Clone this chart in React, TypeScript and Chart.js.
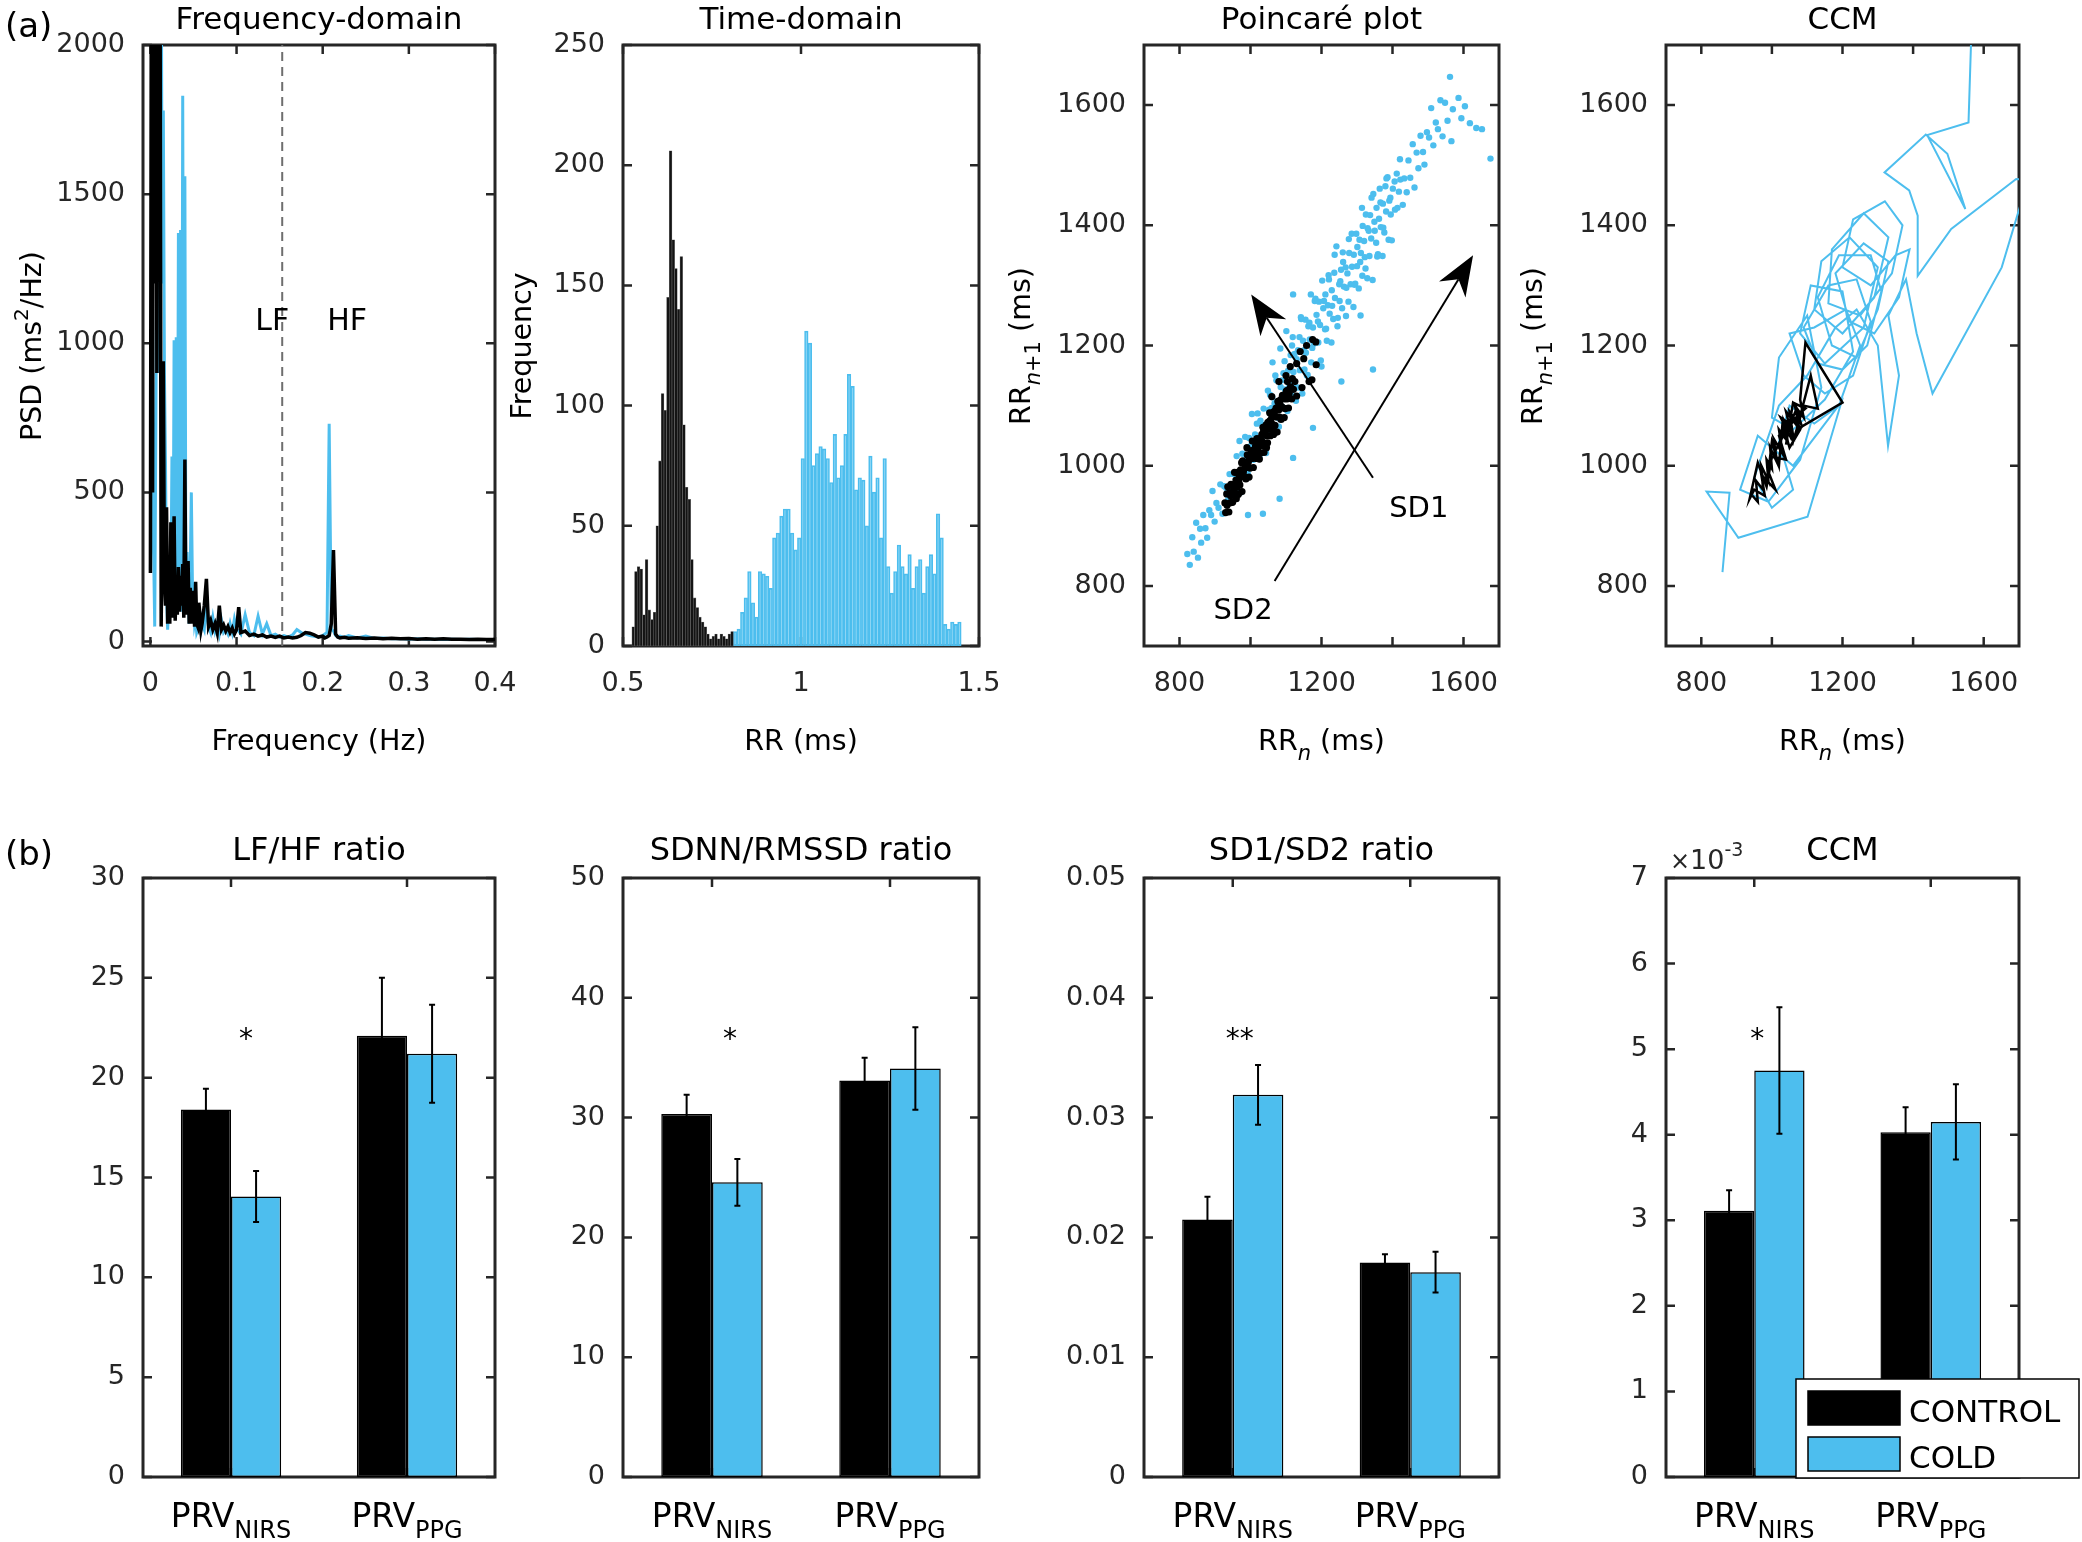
import React, { useEffect, useRef } from 'react';
import { Chart, registerables } from 'chart.js';

Chart.register(...registerables);

const FONT = '"DejaVu Sans", "Liberation Sans", sans-serif';
const INK = '#262626';
const BLUE = '#4DBEEE';
const BLUE_FACE = 'rgba(77, 190, 238, 0.6)';
Chart.defaults.font.family = FONT;
Chart.defaults.color = INK;

// ---------------- (a) Frequency-domain ----------------
const FREQ_HZ = [
  0, 0.00125, 0.0025, 0.00375, 0.005, 0.00625, 0.0075, 0.00875, 0.01, 0.01125,
  0.0125, 0.01375, 0.015, 0.01625, 0.0175, 0.01875, 0.02, 0.02125, 0.0225, 0.02375,
  0.025, 0.02625, 0.0275, 0.02875, 0.03, 0.03125, 0.0325, 0.03375, 0.035, 0.03625,
  0.0375, 0.03875, 0.04, 0.04125, 0.0425, 0.04375, 0.045, 0.04625, 0.0475, 0.04875,
  0.05, 0.05125, 0.0525, 0.05375, 0.055, 0.05625, 0.0575, 0.05875, 0.06,
  0.0625, 0.065, 0.0675, 0.07, 0.0725, 0.075, 0.0775, 0.08, 0.0825, 0.085,
  0.0875, 0.09, 0.0925, 0.095, 0.0975, 0.1,
  0.1025, 0.105, 0.11, 0.115, 0.12, 0.125, 0.13, 0.135, 0.14, 0.145,
  0.15, 0.155, 0.16, 0.165, 0.17, 0.175, 0.18, 0.185, 0.19, 0.195,
  0.2, 0.2025, 0.205, 0.2075, 0.21, 0.2125, 0.215, 0.2175, 0.22, 0.225,
  0.23, 0.24, 0.25, 0.26, 0.27, 0.28, 0.29, 0.3, 0.31, 0.32,
  0.33, 0.34, 0.35, 0.36, 0.37, 0.38, 0.39, 0.4,
];
const PSD_CONTROL = [
  230, 2600, 500, 2800, 1200, 2900, 900, 2500, 1400, 2200,
  50, 500, 940, 200, 120, 450, 60, 180, 60, 400,
  80, 200, 420, 70, 180, 90, 250, 100, 220, 120,
  260, 80, 610, 90, 200, 270, 60, 180, 60, 120,
  170, 50, 200, 60, 50, 130, 90, 40, 60,
  120, 210, 50, 70, 40, 60, 30, 120, 40, 55,
  35, 50, 30, 45, 25, 40,
  115, 30, 35, 20, 25, 18, 22, 15, 18, 14,
  18, 12, 15, 12, 14, 20, 30, 28, 22, 15,
  18, 12, 15, 20, 60, 307, 25, 15, 12, 14,
  11, 13, 10, 12, 9, 11, 9, 10, 8, 9,
  8, 9, 8, 8, 7, 8, 7, 7,
];
const PSD_COLD = [
  240, 600, 870, 300, 50, 700, 1400, 900, 2600, 2200,
  2400, 1200, 1780, 900, 600, 150, 40, 120, 280, 150,
  620, 100, 1010, 80, 1020, 150, 1370, 200, 1380, 100,
  1830, 300, 1560, 100, 300, 150, 60, 250, 500, 200,
  150, 60, 80, 30, 40, 70, 100, 40, 60,
  40, 120, 50, 30, 80, 35, 60, 25, 70, 30,
  40, 25, 60, 30, 75, 40,
  35, 25, 90, 30, 20, 85, 25, 60, 20, 25,
  15, 20, 15, 22, 40, 30, 25, 20, 18, 15,
  20, 25, 30, 730, 40, 35, 20, 15, 18, 14,
  20, 12, 18, 10, 12, 9, 10, 8, 9, 8,
  8, 7, 8, 7, 8, 7, 7, 7,
];
const LF_HF_SPLIT_HZ = 0.153;
const PSD_X_RANGE = [-0.0086, 0.4];
const PSD_Y_RANGE = [-15, 2000];
const PSD_X_TICKS = [0, 0.1, 0.2, 0.3, 0.4];
const PSD_Y_TICKS = [0, 500, 1000, 1500, 2000];

// ---------------- Time-domain histogram ----------------
const HIST_CONTROL_START = 0.525;
const HIST_CONTROL_WIDTH = 0.0075;
const HIST_CONTROL_COUNTS = [
  8, 31, 33, 32, 13, 36, 15, 11, 14, 50, 77, 105, 98, 145, 206, 169, 157, 140, 162,
  92, 66, 61, 36, 20, 16, 12, 10, 8, 5, 3, 4, 5, 3, 5, 4, 3, 5, 6,
];
const HIST_COLD_START = 0.81;
const HIST_COLD_WIDTH = 0.01;
const HIST_COLD_COUNTS = [
  6, 7, 14, 20, 31, 18, 12, 31, 30, 29, 24, 45, 47, 54, 57, 57, 47, 40, 45, 78,
  131, 126, 75, 80, 83, 82, 78, 68, 88, 70, 75, 88, 113, 108, 65, 70, 69, 50, 79, 64,
  70, 45, 78, 33, 22, 31, 42, 33, 30, 38, 24, 33, 36, 22, 33, 38, 30, 55, 45, 9,
  7, 10, 9, 10,
];
const HIST_X_TICKS = [0.5, 1, 1.5];
const HIST_Y_TICKS = [0, 50, 100, 150, 200, 250];

// ---------------- Poincaré plot: [RR_n, RR_n+1] ----------------
const POINCARE_CONTROL = [
  [928, 938], [930, 922], [933, 953], [934, 934], [936, 965], [939, 923], [941, 955], [942, 938], [945, 969], [947, 951],
  [949, 939], [951, 968], [954, 962], [955, 989], [957, 951], [960, 972], [962, 964], [963, 989], [966, 953], [968, 984],
  [970, 968], [972, 993], [975, 982], [976, 957], [978, 1008], [981, 994], [983, 982], [984, 1003], [987, 978], [989, 999],
  [991, 1018], [993, 997], [996, 981], [997, 1012], [999, 996], [1002, 1025], [1004, 1012], [1005, 1041], [1008, 997], [1010, 1021],
  [1012, 1013], [1014, 1032], [1017, 1012], [1018, 1045], [1020, 1026], [1023, 1038], [1025, 1011], [1027, 1037], [1029, 1021], [1032, 1052],
  [1033, 1033], [1035, 1064], [1038, 1022], [1040, 1054], [1041, 1037], [1044, 1068], [1046, 1050], [1048, 1038], [1050, 1067], [1053, 1061],
  [1054, 1088], [1056, 1050], [1059, 1071], [1061, 1063], [1062, 1088], [1065, 1052], [1067, 1083], [1069, 1067], [1071, 1092], [1074, 1081],
  [1075, 1056], [1077, 1107], [1080, 1093], [1082, 1081], [1083, 1102], [1086, 1077], [1088, 1098], [1090, 1117], [1092, 1096], [1095, 1080],
  [1096, 1111], [1098, 1095], [1101, 1124], [1103, 1111], [1104, 1140], [1107, 1096], [1109, 1120], [1111, 1112], [1113, 1131], [1116, 1111],
  [1118, 1145], [1121, 1127], [1125, 1140], [1130, 1116],
  [944, 950], [952, 958], [959, 976], [967, 975], [973, 988], [980, 990], [986, 1002], [994, 1006], [1000, 1015], [1007, 1022],
  [1013, 1028], [1019, 1036], [1026, 1045], [1031, 1042], [1037, 1058], [1043, 1060], [1049, 1072], [1055, 1075], [1060, 1080], [1066, 1090],
  [1072, 1096], [1078, 1098], [1085, 1110], [1091, 1115], [1097, 1118], [1103, 1125], [1110, 1128], [950, 940], [965, 952], [1015, 1020],
  [1112, 1165], [1140, 1190], [1150, 1178], [1158, 1200], [1175, 1210], [1184, 1206], [1185, 1168], [1173, 1143], [1165, 1140], [1100, 1150],
  [1130, 1170], [1145, 1130], [1080, 1140], [1060, 1115], [990, 1030], [1045, 1030], [960, 945], [975, 1005],
];
const POINCARE_COLD = [
  [822, 853], [829, 835], [836, 881], [840, 857], [847, 905], [852, 847], [858, 895], [861, 872], [867, 918], [873, 896],
  [878, 880], [884, 926], [889, 918], [893, 958], [899, 907], [904, 938], [910, 930], [915, 969], [921, 920], [926, 966],
  [932, 963], [937, 943], [941, 986], [947, 964],
  [952, 986], [956, 955], [961, 1016], [964, 980], [969, 1041], [973, 956], [977, 1020], [980, 987], [985, 1048], [989, 1013],
  [992, 987], [996, 1046], [1001, 1033], [1004, 1086], [1008, 1010], [1013, 1052], [1016, 1035], [1020, 1087], [1025, 1015], [1028, 1075],
  [1032, 1043], [1037, 1095], [1040, 1068], [1044, 1021], [1049, 1125], [1052, 1093], [1056, 1069], [1061, 1114], [1064, 1061], [1068, 1104],
  [1073, 1142], [1077, 1100], [1080, 1065], [1085, 1131], [1089, 1098], [1093, 1154], [1097, 1127],
  [1101, 1224], [1104, 1091], [1106, 1158], [1110, 1133], [1113, 1184], [1114, 1118], [1119, 1214], [1121, 1156], [1124, 1186], [1128, 1108],
  [1130, 1177], [1133, 1130], [1138, 1214], [1139, 1159], [1143, 1244], [1146, 1120], [1148, 1208], [1152, 1160], [1155, 1243], [1156, 1188],
  [1161, 1151], [1163, 1232], [1167, 1210], [1170, 1285], [1171, 1172], [1176, 1230], [1178, 1203], [1181, 1274], [1185, 1168], [1186, 1251],
  [1191, 1205], [1193, 1273], [1196, 1234], [1200, 1165], [1202, 1308], [1205, 1262], [1210, 1227], [1211, 1285], [1215, 1208], [1218, 1267],
  [1220, 1317], [1223, 1253], [1228, 1205], [1229, 1292], [1233, 1244], [1236, 1321], [1238, 1279], [1242, 1365], [1245, 1232], [1250, 1302],
  [1251, 1274], [1255, 1326], [1258, 1262], [1260, 1355], [1263, 1298], [1268, 1330], [1269, 1249], [1273, 1320], [1276, 1273], [1278, 1354],
  [1282, 1302], [1285, 1386], [1290, 1264], [1291, 1351], [1295, 1303], [1298, 1386], [1300, 1332], [1305, 1295], [1307, 1376], [1311, 1354],
  [1314, 1429], [1315, 1316], [1320, 1374], [1322, 1347], [1325, 1418], [1329, 1312], [1330, 1395], [1335, 1349], [1337, 1417], [1340, 1378],
  [1344, 1309], [1346, 1452], [1349, 1406], [1354, 1371], [1355, 1429], [1359, 1352], [1362, 1411], [1364, 1461], [1367, 1397], [1372, 1349],
  [1373, 1436], [1377, 1388], [1380, 1465], [1382, 1423], [1386, 1480], [1389, 1376], [1394, 1446], [1395, 1418],
  [1401, 1461], [1407, 1426], [1412, 1486], [1418, 1456], [1422, 1476], [1429, 1434], [1433, 1478], [1440, 1455], [1445, 1508], [1450, 1479],
  [1457, 1535], [1462, 1463], [1468, 1521], [1473, 1495], [1479, 1549], [1486, 1522], [1490, 1501], [1497, 1555], [1503, 1546], [1509, 1595],
  [1515, 1533], [1522, 1571], [1528, 1560], [1535, 1608], [1541, 1548], [1548, 1604],
  [1555, 1574], [1562, 1647], [1566, 1540], [1570, 1593], [1586, 1612], [1594, 1578], [1604, 1598], [1618, 1570], [1636, 1562], [1652, 1560],
  [1676, 1511], [1120, 1285], [1256, 1140], [1176, 1063], [1120, 1013], [993, 918], [1035, 920], [1082, 945], [1345, 1160], [1310, 1250],
  [1062, 1172], [1084, 1195],
  [1108, 1138], [1117, 1200], [1126, 1130], [1134, 1192], [1142, 1247], [1151, 1192], [1159, 1150], [1166, 1238], [1174, 1196], [1183, 1278],
  [1190, 1240], [1198, 1175], [1207, 1274], [1213, 1228], [1221, 1310], [1230, 1266], [1237, 1351], [1246, 1246], [1253, 1307], [1261, 1339],
  [1270, 1296], [1277, 1377], [1286, 1331], [1293, 1301], [1301, 1364], [1309, 1339], [1316, 1399], [1324, 1328], [1333, 1391], [1341, 1446],
  [1350, 1391], [1357, 1348], [1366, 1438], [1374, 1396], [1383, 1478], [1391, 1441], [1398, 1375], [1406, 1473], [1414, 1429], [1421, 1510],
  [1060, 1096], [1070, 1150], [1079, 1079], [1088, 1142], [1096, 1174], [1003, 1029], [1018, 1070], [1026, 1071], [1047, 1055], [1055, 1118],
];
const RR_RANGE = [700, 1700];
const RR_TICKS = [800, 1000, 1200, 1400, 1600];
const RR_X_LABELS = [800, 1200, 1600];
const SD_ARROWS = [
  { from: [1345, 980], to: [1002, 1285] },
  { from: [1068, 808], to: [1627, 1350] },
];
const SD_LABELS = [
  { text: 'SD1', x: 1474, y: 915 },
  { text: 'SD2', x: 979, y: 745 },
];

// ---------------- CCM trajectories ----------------
const CCM_CONTROL = [
  [945, 950], [960, 940], [955, 975], [975, 960], [970, 1000], [990, 975], [985, 1010], [1000, 995], [995, 1030], [1015, 1005],
  [1005, 1045], [1030, 1020], [1020, 1060], [1045, 1040], [1035, 1075], [1060, 1050], [1050, 1090], [1075, 1070], [1065, 1100], [1090, 1080],
  [1080, 1110], [1095, 1205], [1200, 1105], [1070, 1060], [1110, 1150], [1130, 1095], [1090, 1100], [1060, 1040], [1040, 1090], [1080, 1060],
  [1050, 1030], [1030, 1070], [1020, 1000], [1000, 1040], [990, 990], [1010, 960], [970, 985], [980, 950], [950, 960], [937, 945],
  [960, 1005], [985, 965], [1000, 1015], [1040, 1010], [1020, 1050], [1060, 1075], [1045, 1060], [1070, 1095], [1085, 1065], [1055, 1045],
  [1025, 1080], [1050, 1070], [1010, 1025], [1035, 1055], [1075, 1085], [1095, 1095], [1060, 1105], [1040, 1035],
];
const CCM_COLD = [
  [860, 823], [880, 955], [815, 957], [905, 880], [1101, 915], [1197, 1106], [1060, 1000], [960, 1050], [910, 960], [990, 940],
  [1080, 1010], [1140, 1130], [1100, 1250], [1020, 1180], [1000, 1080], [1060, 1060], [1150, 1110], [1230, 1190], [1200, 1290], [1110, 1300],
  [1080, 1220], [1150, 1170], [1260, 1230], [1300, 1330], [1220, 1380], [1140, 1340], [1120, 1260], [1200, 1220], [1290, 1280], [1330, 1380],
  [1260, 1420], [1170, 1360], [1160, 1270], [1250, 1250], [1340, 1320], [1370, 1400], [1320, 1440], [1230, 1410], [1200, 1330], [1280, 1300],
  [1350, 1350], [1390, 1360], [1360, 1280], [1290, 1220], [1220, 1240], [1180, 1320], [1260, 1370], [1330, 1340], [1300, 1260], [1240, 1180],
  [1170, 1200], [1130, 1280], [1190, 1350], [1280, 1350], [1310, 1290], [1270, 1200], [1200, 1160], [1130, 1170], [1090, 1230], [1160, 1300],
  [1240, 1310], [1280, 1240], [1230, 1150], [1150, 1120], [1090, 1150], [1050, 1220], [1120, 1230], [1210, 1260], [1250, 1200], [1190, 1100],
  [1120, 1070], [1050, 1100], [1020, 1040], [1060, 960], [1000, 930], [950, 980], [1020, 1100], [1100, 1150], [1180, 1230], [1240, 1260],
  [1300, 1200], [1329, 1033], [1360, 1150], [1330, 1250], [1380, 1310], [1410, 1220], [1455, 1120], [1651, 1330], [1725, 1475], [1692, 1477],
  [1508, 1394], [1413, 1316], [1413, 1416], [1389, 1458], [1319, 1488], [1436, 1551], [1497, 1519], [1548, 1427], [1440, 1550], [1557, 1571],
  [1565, 1720],
];

// ---------------- (b) group comparisons ----------------
const GROUPS = ['NIRS', 'PPG'];
const LFHF_CONTROL = [18.4, 22.1];
const LFHF_CONTROL_ERR = [1.05, 2.9];
const LFHF_COLD = [14.05, 21.2];
const LFHF_COLD_ERR = [1.28, 2.45];
const LFHF_TICKS = [0, 5, 10, 15, 20, 25, 30];

const SDNN_CONTROL = [30.3, 33.1];
const SDNN_CONTROL_ERR = [1.6, 1.9];
const SDNN_COLD = [24.6, 34.1];
const SDNN_COLD_ERR = [1.95, 3.45];
const SDNN_TICKS = [0, 10, 20, 30, 40, 50];

const SDR_CONTROL = [0.0215, 0.0179];
const SDR_CONTROL_ERR = [0.0019, 0.0007];
const SDR_COLD = [0.0319, 0.0171];
const SDR_COLD_ERR = [0.0025, 0.0017];
const SDR_TICKS = [0, 0.01, 0.02, 0.03, 0.04, 0.05];

const CCMB_CONTROL = [0.00311, 0.00403];
const CCMB_CONTROL_ERR = [0.00024, 0.00029];
const CCMB_COLD = [0.00475, 0.00415];
const CCMB_COLD_ERR = [0.00074, 0.00044];
const CCMB_TICKS = [0, 0.001, 0.002, 0.003, 0.004, 0.005, 0.006, 0.007];

// significance marks: text, height in data units, horizontal shift from the first group centre (px)
const STARS = [
  { text: '*', y: 21.5, dx: 15 },
  { text: '*', y: 35.8, dx: 18 },
  { text: '**', y: 0.0358, dx: 7 },
  { text: '*', y: 0.00501, dx: 3 },
];

// ---------------- page geometry ----------------
const ROWS = [{ T: 45, B: 646, top: 0, bottom: 780 }, { T: 878, B: 1477, top: 780, bottom: 1542 }];
const COLS = [
  { L: 143, R: 495, left: 0, right: 560, mid: 319 },
  { L: 623, R: 979, left: 500, right: 1062, mid: 801 },
  { L: 1144, R: 1499, left: 990, right: 1580, mid: 1321.5 },
  { L: 1666, R: 2019, left: 1508, right: 2082, mid: 1842.5 },
];

type Run = { t: string; size: number; italic?: boolean; dy?: number };
type Label = { runs: Run[]; x: number; y: number; rotate?: boolean; align?: 'left' | 'center'; color?: string };
const r = (t: string, size: number, extra: Partial<Run> = {}): Run => ({ t, size, ...extra });

function drawRuns(ctx: CanvasRenderingContext2D, runs: Run[], x: number, y: number, rotate = false, align = 'center', color = '#000') {
  ctx.save();
  ctx.translate(x, y);
  if (rotate) ctx.rotate(-Math.PI / 2);
  ctx.textBaseline = 'alphabetic';
  ctx.textAlign = 'left';
  ctx.fillStyle = color;
  const fontOf = (q: Run) => `${q.italic ? 'italic ' : ''}${q.size}px ${FONT}`;
  const widths = runs.map((q) => { ctx.font = fontOf(q); return ctx.measureText(q.t).width; });
  const total = widths.reduce((a, b) => a + b, 0);
  let cx = align === 'left' ? 0 : -total / 2;
  runs.forEach((q, i) => {
    ctx.font = fontOf(q);
    ctx.fillText(q.t, cx, q.dy || 0);
    cx += widths[i];
  });
  ctx.restore();
}

type Spec = {
  ox: number; oy: number;
  xTicks: number[]; yTicks: number[];
  labels?: Label[];
  dataLabels?: { runs: Run[]; x: number; y: number; dx?: number }[];
  errors?: number[][];
  arrows?: { from: number[]; to: number[] }[];
  groupLabels?: boolean;
  legend?: boolean;
};

function drawArrow(ctx: CanvasRenderingContext2D, x0: number, y0: number, x1: number, y1: number) {
  const dx = x1 - x0, dy = y1 - y0;
  const len = Math.hypot(dx, dy);
  const ux = dx / len, uy = dy / len, px = -uy, py = ux;
  const L = 40, W = 15.5;
  ctx.beginPath();
  ctx.moveTo(x0, y0);
  ctx.lineTo(x1 - ux * L * 0.7, y1 - uy * L * 0.7);
  ctx.lineWidth = 2;
  ctx.stroke();
  ctx.beginPath();
  ctx.moveTo(x1, y1);
  ctx.lineTo(x1 - ux * L + px * W, y1 - uy * L + py * W);
  ctx.lineTo(x1 - ux * L * 0.7, y1 - uy * L * 0.7);
  ctx.lineTo(x1 - ux * L - px * W, y1 - uy * L - py * W);
  ctx.closePath();
  ctx.fill();
}

function overlay(spec: Spec) {
  return {
    id: 'overlay',
    beforeDatasetsDraw(chart: any) {
      const { ctx, chartArea: a, scales } = chart;
      ctx.save();
      ctx.strokeStyle = INK;
      ctx.lineWidth = 2.5;
      const tl = 9;
      ctx.beginPath();
      for (const v of spec.xTicks) {
        const p = scales.x.getPixelForValue(v);
        ctx.moveTo(p, a.bottom); ctx.lineTo(p, a.bottom - tl);
        ctx.moveTo(p, a.top); ctx.lineTo(p, a.top + tl);
      }
      for (const v of spec.yTicks) {
        const p = scales.y.getPixelForValue(v);
        ctx.moveTo(a.left, p); ctx.lineTo(a.left + tl, p);
        ctx.moveTo(a.right, p); ctx.lineTo(a.right - tl, p);
      }
      ctx.stroke();
      ctx.lineWidth = 3;
      ctx.strokeRect(a.left, a.top, a.right - a.left, a.bottom - a.top);
      ctx.restore();
    },
    afterDatasetsDraw(chart: any) {
      const { ctx, scales } = chart;
      ctx.save();
      if (spec.errors) {
        ctx.strokeStyle = '#000';
        ctx.lineWidth = 2;
        spec.errors.forEach((errs, di) => {
          const meta = chart.getDatasetMeta(di);
          const vals = chart.data.datasets[di].data;
          meta.data.forEach((el: any, i: number) => {
            const top = scales.y.getPixelForValue(vals[i] + errs[i]);
            const bot = scales.y.getPixelForValue(vals[i] - errs[i]);
            const cap = 3;
            ctx.beginPath();
            ctx.moveTo(el.x, top); ctx.lineTo(el.x, bot);
            ctx.moveTo(el.x - cap, top); ctx.lineTo(el.x + cap, top);
            ctx.moveTo(el.x - cap, bot); ctx.lineTo(el.x + cap, bot);
            ctx.stroke();
          });
        });
      }
      if (spec.arrows) {
        ctx.strokeStyle = '#000';
        ctx.fillStyle = '#000';
        for (const ar of spec.arrows) {
          drawArrow(ctx,
            scales.x.getPixelForValue(ar.from[0]), scales.y.getPixelForValue(ar.from[1]),
            scales.x.getPixelForValue(ar.to[0]), scales.y.getPixelForValue(ar.to[1]));
        }
      }
      ctx.restore();
    },
    afterDraw(chart: any) {
      const { ctx, scales } = chart;
      for (const l of spec.labels || []) {
        drawRuns(ctx, l.runs, l.x - spec.ox, l.y - spec.oy, l.rotate, l.align || 'center', l.color || '#000');
      }
      for (const d of spec.dataLabels || []) {
        drawRuns(ctx, d.runs, scales.x.getPixelForValue(d.x) + (d.dx || 0), scales.y.getPixelForValue(d.y));
      }
      if (spec.groupLabels) {
        GROUPS.forEach((g, i) => {
          drawRuns(ctx, [r('PRV', 33), r(g, 24, { dy: 11 })], scales.x.getPixelForValue(i), 1527 - spec.oy);
        });
      }
      if (spec.legend) {
        const ox = spec.ox, oy = spec.oy;
        ctx.save();
        ctx.fillStyle = '#fff';
        ctx.fillRect(1796 - ox, 1379 - oy, 283, 99);
        ctx.strokeStyle = '#000';
        ctx.lineWidth = 1.5;
        ctx.strokeRect(1796 - ox, 1379 - oy, 283, 99);
        const ds = chart.data.datasets;
        const rows = [1391, 1437];
        ds.forEach((d: any, i: number) => {
          ctx.fillStyle = d.backgroundColor;
          ctx.fillRect(1808 - ox, rows[i] - oy, 92, 34);
          ctx.strokeStyle = '#000';
          ctx.strokeRect(1808 - ox, rows[i] - oy, 92, 34);
          drawRuns(ctx, [r(d.label, 31)], 1909 - ox, rows[i] + 31 - oy, false, 'left');
        });
        ctx.restore();
      }
    },
  };
}

const fmt = (v: number) => String(parseFloat(Number(v).toFixed(4)));

function xLinear(range: number[], labels: number[] | null, size = 27) {
  return {
    type: 'linear', position: 'bottom', min: range[0], max: range[1], offset: false,
    grid: { display: false, drawTicks: false }, border: { display: false },
    ticks: { display: !!labels, font: { family: FONT, size }, color: INK, padding: 22, maxRotation: 0, autoSkip: false, callback: (v: any) => fmt(v) },
    afterBuildTicks: (s: any) => { if (labels) s.ticks = labels.map((value) => ({ value })); },
  } as any;
}

function yLinear(range: number[], labels: number[], format = fmt) {
  return {
    type: 'linear', position: 'left', min: range[0], max: range[1],
    grid: { display: false, drawTicks: false }, border: { display: false },
    ticks: { font: { family: FONT, size: 27 }, color: INK, padding: 18, autoSkip: false, callback: (v: any) => format(v) },
    afterBuildTicks: (s: any) => { s.ticks = labels.map((value) => ({ value })); },
  } as any;
}

function xCategory() {
  return {
    type: 'category', position: 'bottom', offset: true,
    grid: { display: false, drawTicks: false, offset: true }, border: { display: false },
    ticks: { display: false },
  } as any;
}

function options(col: number, row: number, scales: any) {
  const c = COLS[col], rw = ROWS[row];
  const yW = c.L - c.left;
  const xH = rw.bottom - rw.B;
  scales.x.afterFit = (s: any) => { s.height = xH; };
  scales.y.afterFit = (s: any) => { s.width = yW; };
  return {
    animation: false, responsive: false, maintainAspectRatio: false, events: [],
    layout: { padding: { left: 0, top: rw.T - rw.top, right: c.right - c.R, bottom: 0 } },
    plugins: { legend: { display: false }, tooltip: { enabled: false }, title: { display: false } },
    scales,
  };
}

const rrSub = (sub: string, base = 28.5) => [r('RR', base), r(sub, 21, { italic: true, dy: 10 }), r(' (ms)', base)];
const rrSubNext = (base = 28.5) => [r('RR', base), r('n', 21, { italic: true, dy: 10 }), r('+1', 21, { dy: 10 }), r(' (ms)', base)];

function topTexts(col: number, title: string, xl: Run[], yl: Run[], yx: number): Label[] {
  const c = COLS[col];
  return [
    { runs: [r(title, 31)], x: c.mid, y: 29 },
    { runs: xl, x: c.mid, y: 750 },
    { runs: yl, x: yx, y: 346, rotate: true },
  ];
}

// ---------------- chart builders ----------------
function buildPsd() {
  const c = COLS[0], rw = ROWS[0];
  const spec: Spec = {
    ox: c.left, oy: rw.top, xTicks: PSD_X_TICKS, yTicks: PSD_Y_TICKS,
    labels: [
      ...topTexts(0, 'Frequency-domain', [r('Frequency (Hz)', 28.5)], [r('PSD (ms', 28.5), r('2', 20, { dy: -13 }), r('/Hz)', 28.5)], 41),
      { runs: [r('(a)', 34)], x: 5, y: 37, align: 'left' },
    ],
    dataLabels: [
      { runs: [r('LF', 30)], x: 0.1415, y: 1043 },
      { runs: [r('HF', 30)], x: 0.2284, y: 1043 },
    ],
  };
  return {
    type: 'line',
    data: {
      datasets: [
        { label: 'CONTROL', data: FREQ_HZ.map((f, i) => ({ x: f, y: PSD_CONTROL[i] })), borderColor: '#000', borderWidth: 3.5, pointRadius: 0, tension: 0 },
        { label: 'COLD', data: FREQ_HZ.map((f, i) => ({ x: f, y: PSD_COLD[i] })), borderColor: BLUE, borderWidth: 3, pointRadius: 0, tension: 0 },
        { label: 'LF/HF', data: [{ x: LF_HF_SPLIT_HZ, y: PSD_Y_RANGE[0] }, { x: LF_HF_SPLIT_HZ, y: PSD_Y_RANGE[1] }], borderColor: '#6e6e6e', borderWidth: 2, borderDash: [9, 6], pointRadius: 0 },
      ],
    },
    options: options(0, 0, { x: xLinear(PSD_X_RANGE, PSD_X_TICKS), y: yLinear(PSD_Y_RANGE, PSD_Y_TICKS) }),
    plugins: [overlay(spec)],
  };
}

function buildHist() {
  const c = COLS[1], rw = ROWS[0];
  const pxPerUnit = (c.R - c.L) / (HIST_X_TICKS[2] - HIST_X_TICKS[0]);
  const spec: Spec = {
    ox: c.left, oy: rw.top, xTicks: HIST_X_TICKS, yTicks: HIST_Y_TICKS,
    labels: topTexts(1, 'Time-domain', [r('RR (ms)', 28.5)], [r('Frequency', 28.5)], 531),
  };
  return {
    type: 'bar',
    data: {
      datasets: [
        {
          label: 'CONTROL', grouped: false, borderSkipped: false,
          data: HIST_CONTROL_COUNTS.map((n, i) => ({ x: HIST_CONTROL_START + (i + 0.5) * HIST_CONTROL_WIDTH, y: n })),
          backgroundColor: '#141414', borderColor: '#6a6a6a', borderWidth: 0.6, barThickness: pxPerUnit * HIST_CONTROL_WIDTH,
        },
        {
          label: 'COLD', grouped: false, borderSkipped: false,
          data: HIST_COLD_COUNTS.map((n, i) => ({ x: HIST_COLD_START + (i + 0.5) * HIST_COLD_WIDTH, y: n })),
          backgroundColor: BLUE_FACE, borderColor: BLUE, borderWidth: 1, barThickness: pxPerUnit * HIST_COLD_WIDTH,
        },
      ],
    },
    options: options(1, 0, { x: xLinear([HIST_X_TICKS[0], HIST_X_TICKS[2]], HIST_X_TICKS), y: yLinear([0, 250], HIST_Y_TICKS) }),
    plugins: [overlay(spec)],
  };
}

function buildPoincare() {
  const c = COLS[2], rw = ROWS[0];
  const spec: Spec = {
    ox: c.left, oy: rw.top, xTicks: RR_TICKS, yTicks: RR_TICKS,
    labels: topTexts(2, 'Poincaré plot', rrSub('n'), rrSubNext(), 1030),
    arrows: SD_ARROWS,
    dataLabels: SD_LABELS.map((s) => ({ runs: [r(s.text, 29)], x: s.x, y: s.y })),
  };
  return {
    type: 'scatter',
    data: {
      datasets: [
        { label: 'CONTROL', data: POINCARE_CONTROL.map(([x, y]) => ({ x, y })), backgroundColor: '#000', borderWidth: 0, pointRadius: 3.6 },
        { label: 'COLD', data: POINCARE_COLD.map(([x, y]) => ({ x, y })), backgroundColor: BLUE, borderWidth: 0, pointRadius: 3.2 },
      ],
    },
    options: options(2, 0, { x: xLinear(RR_RANGE, RR_X_LABELS), y: yLinear(RR_RANGE, RR_TICKS) }),
    plugins: [overlay(spec)],
  };
}

function buildCcm() {
  const c = COLS[3], rw = ROWS[0];
  const spec: Spec = {
    ox: c.left, oy: rw.top, xTicks: RR_TICKS, yTicks: RR_TICKS,
    labels: topTexts(3, 'CCM', rrSub('n'), rrSubNext(), 1542),
  };
  return {
    type: 'scatter',
    data: {
      datasets: [
        { label: 'CONTROL', data: CCM_CONTROL.map(([x, y]) => ({ x, y })), borderColor: '#000', borderWidth: 2.5, showLine: true, pointRadius: 0, tension: 0 },
        { label: 'COLD', data: CCM_COLD.map(([x, y]) => ({ x, y })), borderColor: BLUE, borderWidth: 2, showLine: true, pointRadius: 0, tension: 0 },
      ],
    },
    options: options(3, 0, { x: xLinear(RR_RANGE, RR_X_LABELS), y: yLinear(RR_RANGE, RR_TICKS) }),
    plugins: [overlay(spec)],
  };
}

function buildBars(col: number, title: string, control: number[], controlErr: number[], cold: number[], coldErr: number[], ticks: number[], format = fmt, extraLabels: Label[] = []) {
  const c = COLS[col], rw = ROWS[1];
  const star = STARS[col];
  const spec: Spec = {
    ox: c.left, oy: rw.top, xTicks: [0, 1], yTicks: ticks,
    labels: [{ runs: [r(title, 32)], x: c.mid, y: 860 }, ...extraLabels],
    dataLabels: [{ runs: [r(star.text, 28)], x: 0, y: star.y, dx: star.dx }],
    errors: [controlErr, coldErr],
    groupLabels: true,
    legend: col === 3,
  };
  const common = { borderColor: '#000', borderWidth: 1.5, borderSkipped: false, categoryPercentage: 0.57, barPercentage: 1 };
  return {
    type: 'bar',
    data: {
      labels: GROUPS,
      datasets: [
        { label: 'CONTROL', data: control, backgroundColor: '#000', ...common },
        { label: 'COLD', data: cold, backgroundColor: BLUE, ...common },
      ],
    },
    options: options(col, 1, { x: xCategory(), y: yLinear([ticks[0], ticks[ticks.length - 1]], ticks, format) }),
    plugins: [overlay(spec)],
  };
}

const PANELS = [
  { col: 0, row: 0, build: buildPsd },
  { col: 1, row: 0, build: buildHist },
  { col: 2, row: 0, build: buildPoincare },
  { col: 3, row: 0, build: buildCcm },
  { col: 0, row: 1, build: () => buildBars(0, 'LF/HF ratio', LFHF_CONTROL, LFHF_CONTROL_ERR, LFHF_COLD, LFHF_COLD_ERR, LFHF_TICKS, fmt, [{ runs: [r('(b)', 34)], x: 5, y: 865, align: 'left' }]) },
  { col: 1, row: 1, build: () => buildBars(1, 'SDNN/RMSSD ratio', SDNN_CONTROL, SDNN_CONTROL_ERR, SDNN_COLD, SDNN_COLD_ERR, SDNN_TICKS) },
  { col: 2, row: 1, build: () => buildBars(2, 'SD1/SD2 ratio', SDR_CONTROL, SDR_CONTROL_ERR, SDR_COLD, SDR_COLD_ERR, SDR_TICKS) },
  {
    col: 3, row: 1,
    build: () => buildBars(3, 'CCM', CCMB_CONTROL, CCMB_CONTROL_ERR, CCMB_COLD, CCMB_COLD_ERR, CCMB_TICKS,
      (v: number) => String(Math.round(Number(v) * 1000)),
      [{ runs: [r('×', 24), r('10', 27), r('-3', 19, { dy: -13 })], x: 1670, y: 869, align: 'left', color: INK }]),
  },
];

function Panel({ col, row, build }: { col: number; row: number; build: () => any }) {
  const ref = useRef<HTMLCanvasElement | null>(null);
  const c = COLS[col], rw = ROWS[row];
  const w = c.right - c.left, h = rw.bottom - rw.top;
  useEffect(() => {
    if (!ref.current) return;
    const chart = new Chart(ref.current, build());
    return () => chart.destroy();
  }, []);
  return (
    <canvas
      ref={ref}
      width={w}
      height={h}
      style={{ position: 'absolute', left: c.left, top: rw.top, width: w, height: h }}
    />
  );
}

export default function App() {
  return (
    <div style={{ position: 'fixed', left: 0, top: 0, width: 2082, height: 1542, background: '#fff', overflow: 'hidden' }}>
      {PANELS.map((p, i) => (
        <Panel key={i} col={p.col} row={p.row} build={p.build} />
      ))}
    </div>
  );
}
